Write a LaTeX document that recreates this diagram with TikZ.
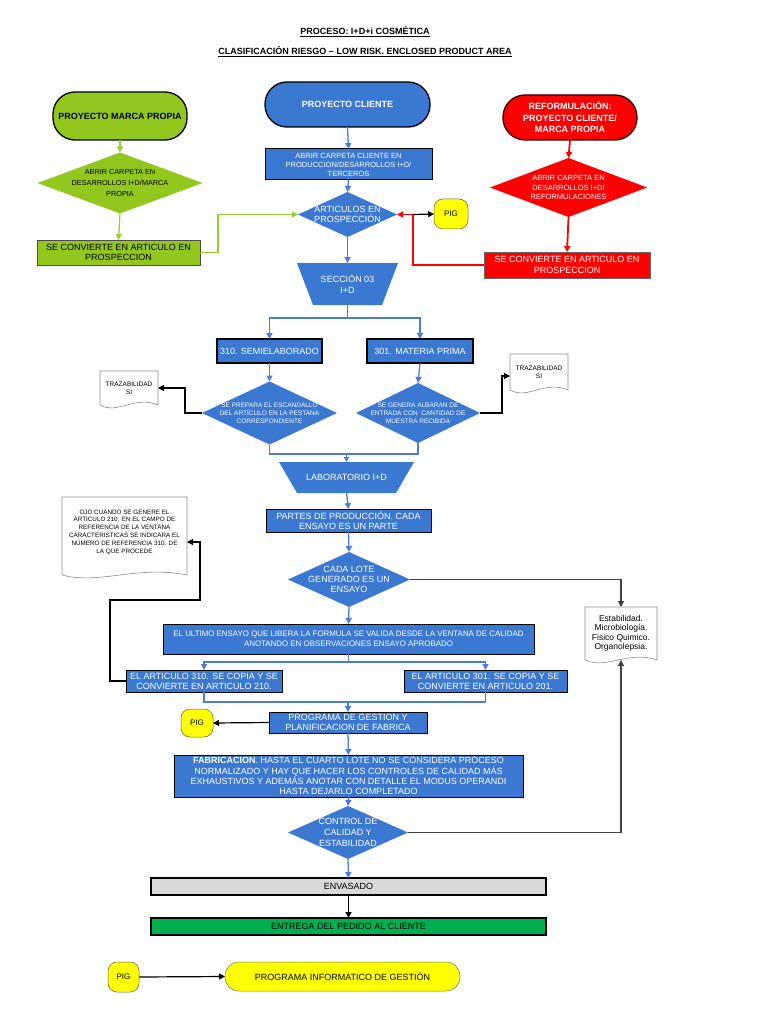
\documentclass[tikz,border=0pt]{standalone}
\usepackage{fontspec}
\setmainfont{Liberation Sans}
\usetikzlibrary{shapes.geometric,arrows.meta,calc,backgrounds}
\definecolor{cblue}{RGB}{58,120,210}
\definecolor{lblue}{RGB}{75,125,215}
\definecolor{cgreen}{RGB}{146,200,30}
\definecolor{lgreen}{RGB}{150,205,50}
\definecolor{cred}{RGB}{255,0,0}
\definecolor{cyel}{RGB}{255,255,0}
\definecolor{cgray}{RGB}{217,217,217}
\definecolor{cdgreen}{RGB}{0,176,80}
\newcommand{\fs}[2]{\fontsize{#1}{#2}\selectfont}
\newcommand{\docoutline}[2]{%
  \draw[docline] (#1.north west) -- (#1.north east) -- ($(#1.south east)+(0,#2)$)
   .. controls ($(#1.south east)!0.4!(#1.south west)+(0,#2-10)$) and ($(#1.south east)!0.7!(#1.south west)+(0,#2+10)$) .. ($(#1.south west)+(0,#2)$) -- cycle;}
\newcommand{\trapfill}[2]{%
  \begin{scope}[on background layer]
  \fill[cblue] (#1.north west) -- (#1.north east) -- ($(#1.south east)+(-#2,0)$) -- ($(#1.south west)+(#2,0)$) -- cycle;
  \end{scope}}
\begin{document}
\begin{tikzpicture}[x=1pt,y=-1pt,
  every node/.style={inner sep=0pt,outer sep=0pt},
  term/.style={rectangle,rounded corners=#1,draw=black,line width=1.3pt,align=center,font=\bfseries\fs{9}{10.5}},
  term/.default=20pt,
  bbox/.style={rectangle,draw=black,line width=1pt,fill=cblue,text=white,align=center},
  ddia/.style={diamond,inner sep=0pt},
  dlab/.style={align=center,inner sep=0pt},
  trap/.style={rectangle,text=white,align=center},
  pigs/.style={rectangle,rounded corners=9pt,fill=cyel,draw=black!70!yellow,line width=0.5pt,minimum width=34pt,minimum height=30pt,font=\fs{8}{9}},
  docn/.style={rectangle,align=center},
  docline/.style={draw=black!45,line width=0.6pt},
  tip/.style={-{Triangle[length=6pt,width=6pt]}},
  bl/.style={draw=lblue,line width=1.3pt},
  gl/.style={draw=lgreen,line width=1.2pt},
  rl/.style={draw=red,line width=1.8pt},
  kl/.style={draw=black,line width=1.2pt}
]
\begin{scope}[on background layer]
\fill[white] (0,0) rectangle (768,1024);
\end{scope}
\useasboundingbox (0,0) rectangle (768,1024);

% titles
\node[font=\bfseries\fs{9}{11}] (t1) at (365,32) {\underline{PROCESO: I+D+i COSMÉTICA}};
\node[font=\bfseries\fs{9}{11}] (t2) at (365,52) {\underline{CLASIFICACIÓN RIESGO – LOW RISK. ENCLOSED PRODUCT AREA}};

% green branch
\node[term=22pt,fill=cgreen,minimum width=134,minimum height=48] (pmp) at (120,116) {PROYECTO MARCA PROPIA};
\node[ddia,fill=cgreen,minimum width=165,minimum height=61,label={[dlab,font=\fs{7.3}{11}]center:{ABRIR CARPETA EN\\DESARROLLOS I+D/MARCA\\PROPIA}}] (gd) at (120,183) {};
\node[rectangle,draw=black!70,line width=1pt,fill=cgreen,minimum width=163,minimum height=25,align=center,font=\fs{9}{10.5}] (grect) at (118.5,252.5) {SE CONVIERTE EN ARTICULO EN\\PROSPECCION};

% blue top
\node[term=22pt,fill=cblue,text=white,minimum width=165,minimum height=45] (pc) at (347.5,104.5) {PROYECTO CLIENTE};
\node[bbox,minimum width=167,minimum height=31,font=\fs{7.5}{9}] (acc) at (348.5,164.5) {ABRIR CARPETA CLIENTE EN\\PRODUCCION/DESARROLLOS I+D/\\TERCEROS};
\node[ddia,fill=cblue,minimum width=99,minimum height=45,label={[dlab,text=white,font=\fs{9}{10}]center:{ARTICULOS EN\\PROSPECCIÓN}}] (artp) at (347.5,214.5) {};
\node[pigs] (pig1) at (451,214) {PIG};

% red branch
\node[term=22pt,fill=cred,text=white,draw=black!80!red,minimum width=134,minimum height=45,font=\bfseries\fs{9}{11.5}] (rt) at (570,117.5) {REFORMULACIÓN:\\PROYECTO CLIENTE/\\MARCA PROPIA};
\node[ddia,fill=cred,minimum width=157,minimum height=59,label={[dlab,text=white,font=\fs{7.5}{9.5}]center:{ABRIR CARPETA EN\\DESARROLLOS I+D/\\REFORMULACIONES}}] (rd) at (568.5,187.5) {};
\node[rectangle,draw=black!60,line width=1pt,fill=cred,text=white,minimum width=166,minimum height=26,align=center,font=\fs{9}{10.5}] (rrect) at (567,265) {SE CONVIERTE EN ARTICULO EN\\PROSPECCION};

% section
\node[trap,minimum width=101,minimum height=42,font=\fs{9}{10.5}] (sec) at (347.5,284) {SECCIÓN 03\\I+D};
\trapfill{sec}{16}
\node[bbox,line width=2.2pt,minimum width=105,minimum height=24,font=\fs{9}{10}] (s310) at (269.5,351) {310. SEMIELABORADO};
\node[bbox,line width=2.2pt,minimum width=106,minimum height=24,font=\fs{9}{10}] (s301) at (420,351) {301. MATERIA PRIMA};
\node[ddia,fill=cblue,minimum width=135,minimum height=63,label={[dlab,text=white,font=\fs{6.5}{8}]center:{SE PREPARA EL ESCANDALLO\\DEL ARTÍCULO EN LA PESTANA\\CORRESPONDIENTE}}] (d310) at (269.5,413) {};
\node[ddia,fill=cblue,minimum width=124,minimum height=60,label={[dlab,text=white,font=\fs{6.5}{8}]center:{SE GENERA ALBARAN DE\\ENTRADA CON\ \ CANTIDAD DE\\MUESTRA RECIBIDA}}] (d301) at (418,413) {};
\node[docn,minimum width=58,minimum height=34,font=\fs{6.5}{8}] (traz1) at (129,388) {TRAZABILIDAD\\SI};
\docoutline{traz1}{0}
\node[docn,minimum width=58,minimum height=36,font=\fs{6.5}{8}] (traz2) at (539,372) {TRAZABILIDAD\\SI};
\docoutline{traz2}{0}

% lab
\node[trap,minimum width=135,minimum height=31,font=\fs{9}{10}] (lab) at (346.5,477.5) {LABORATORIO I+D};
\trapfill{lab}{18}
\node[bbox,minimum width=165,minimum height=23,font=\fs{9}{10}] (partes) at (348.5,520.5) {PARTES DE PRODUCCIÓN. CADA\\ENSAYO ES UN PARTE};
\node[ddia,fill=cblue,minimum width=122,minimum height=55,label={[dlab,text=white,font=\fs{9}{10}]center:{CADA LOTE\\GENERADO ES UN\\ENSAYO}}] (lote) at (349,579.5) {};
\node[bbox,minimum width=371,minimum height=30,font=\fs{7.9}{10}] (ultimo) at (348.5,639) {EL ULTIMO ENSAYO QUE LIBERA LA FORMULA SE VALIDA DESDE LA VENTANA DE CALIDAD\\ANOTANDO EN OBSERVACIONES ENSAYO APROBADO};
\node[docn,minimum width=125,minimum height=70,font=\fs{6.3}{7.8}] (ojo) at (124.5,532) {OJO CUANDO SE GENERE EL\\ARTICULO 210. EN EL CAMPO DE\\REFERENCIA DE LA VENTANA\\CARACTERISTICAS SE INDICARA EL\\NÚMERO DE REFERENCIA 310. DE\\LA QUE PROCEDE};
\docoutline{ojo}{8}
\node[docn,minimum width=72,minimum height=53,font=\fs{8.5}{9.5}] (estab) at (621,633.5) {Estabilidad.\\Microbiología.\\Fisico Quimico.\\Organolepsia.};
\docoutline{estab}{0}
\node[bbox,minimum width=156,minimum height=22,font=\fs{9}{10}] (a310) at (204,681) {EL ARTICULO 310. SE COPIA Y SE\\CONVIERTE EN ARTICULO 210.};
\node[bbox,minimum width=163,minimum height=22,font=\fs{9}{10}] (a301) at (485.5,681) {EL ARTICULO 301. SE COPIA Y SE\\CONVIERTE EN ARTICULO 201.};
\node[bbox,minimum width=158,minimum height=21,font=\fs{9}{10}] (prog) at (348,722.5) {PROGRAMA DE GESTION Y\\PLANIFICACION DE FABRICA};
\node[pigs,minimum width=32,minimum height=28] (pig2) at (197,723) {PIG};
\node[bbox,minimum width=349,minimum height=42,font=\fs{9}{10.2}] (fab) at (348.5,776) {\textbf{FABRICACION}. HASTA EL CUARTO LOTE NO SE CONSIDERA PROCESO\\NORMALIZADO Y HAY QUE HACER LOS CONTROLES DE CALIDAD MÁS\\EXHAUSTIVOS Y ADEMÁS ANOTAR CON DETALLE EL MODUS OPERANDI\\HASTA DEJARLO COMPLETADO};
\node[ddia,fill=cblue,minimum width=120,minimum height=53,label={[dlab,text=white,font=\fs{9}{10.8}]center:{CONTROL DE\\CALIDAD Y\\ESTABILIDAD}}] (ctrl) at (348,832.5) {};
\node[rectangle,draw=black,line width=1.2pt,fill=cgray,minimum width=395,minimum height=17,font=\fs{9}{10}] (env) at (348.5,886.5) {ENVASADO};
\node[rectangle,draw=black,line width=1.2pt,fill=cdgreen,minimum width=395,minimum height=17,font=\fs{9}{10}] (ent) at (348.5,926.5) {ENTREGA DEL PEDIDO AL CLIENTE};

% legend
\node[pigs,minimum width=31,minimum height=30] (pig3) at (123.5,977) {PIG};
\node[rectangle,rounded corners=14pt,fill=cyel,draw=black!60!yellow,line width=0.5pt,minimum width=235,minimum height=29,font=\fs{9}{10}] (pigl) at (342.5,976.5) {PROGRAMA INFORMATICO DE GESTIÓN};

% connectors
\draw[gl,tip] (pmp.south) -- (gd.north);
\draw[gl,tip] (gd.south) -- (grect.north);
\draw[gl,tip] (grect.east) -- ++(18,0) |- (artp.west);
\draw[bl,tip] (pc.south) -- (acc.north);
\draw[bl,tip] (acc.south) -- (artp.north);
\draw[bl,tip] (artp.south) -- (sec.north);
\draw[rl,tip] (rt.south) -- (rd.north);
\draw[rl,tip] (rd.south) -- (rrect.north);
\coordinate (rj) at (413,214.5);
\draw[rl,tip] (rrect.west) -| (rj) -- (artp.east);
\draw[kl,tip] (rj) -- (pig1.west);
\coordinate (sp1) at (347.5,318);
\draw[bl] (sec.south) -- (sp1);
\draw[bl,tip] (sp1) -| (s310.north);
\draw[bl,tip] (sp1) -| (s301.north);
\draw[bl,tip] (s310.south) -- (d310.north);
\draw[bl,tip] (s301.south) -- (d301.north);
\draw[kl,tip] (d310.west) -- ++(-17,0) |- (traz1.east);
\draw[kl,tip] (d301.east) -- ++(22,0) |- ([yshift=-4pt]traz2.west);
\coordinate (sp2) at (346.5,454);
\draw[bl] (d310.south) |- (sp2);
\draw[bl] (d301.south) |- (sp2);
\draw[bl,-{Triangle[length=5pt,width=5pt]}] (sp2) -- (lab.north);
\draw[bl,tip] (lab.south) -- (partes.north);
\draw[bl,tip] (partes.south) -- (lote.north);
\draw[bl,tip] (lote.south) -- (ultimo.north);
\draw[kl,draw=black!75,tip] (lote.east) -| (estab.north);
\coordinate (sp3) at (348.5,662);
\draw[bl] (ultimo.south) -- (sp3);
\draw[bl,tip] (sp3) -| (a310.north);
\draw[bl,tip] (sp3) -| (a301.north);
\coordinate (j1) at (110,600);
\coordinate (j2) at (200,600);
\draw[kl,tip] (a310.west) -| (j1) -- (j2) |- ([yshift=-10pt]ojo.east);
\coordinate (sp4) at (348,702);
\draw[bl] (a310.south) |- (sp4);
\draw[bl] (a301.south) |- (sp4);
\draw[bl,tip] (sp4) -- (prog.north);
\draw[kl,tip] (prog.west) -- (pig2.east);
\draw[bl,tip] (prog.south) -- (fab.north);
\draw[bl,tip] (fab.south) -- (ctrl.north);
\draw[kl,draw=black!75,tip] (ctrl.east) -| (estab.south);
\draw[bl,tip] (ctrl.south) -- (env.north);
\draw[kl,tip] (env.south) -- (ent.north);
\draw[kl,tip] (pig3.east) -- (pigl.west);
\end{tikzpicture}
\end{document}
